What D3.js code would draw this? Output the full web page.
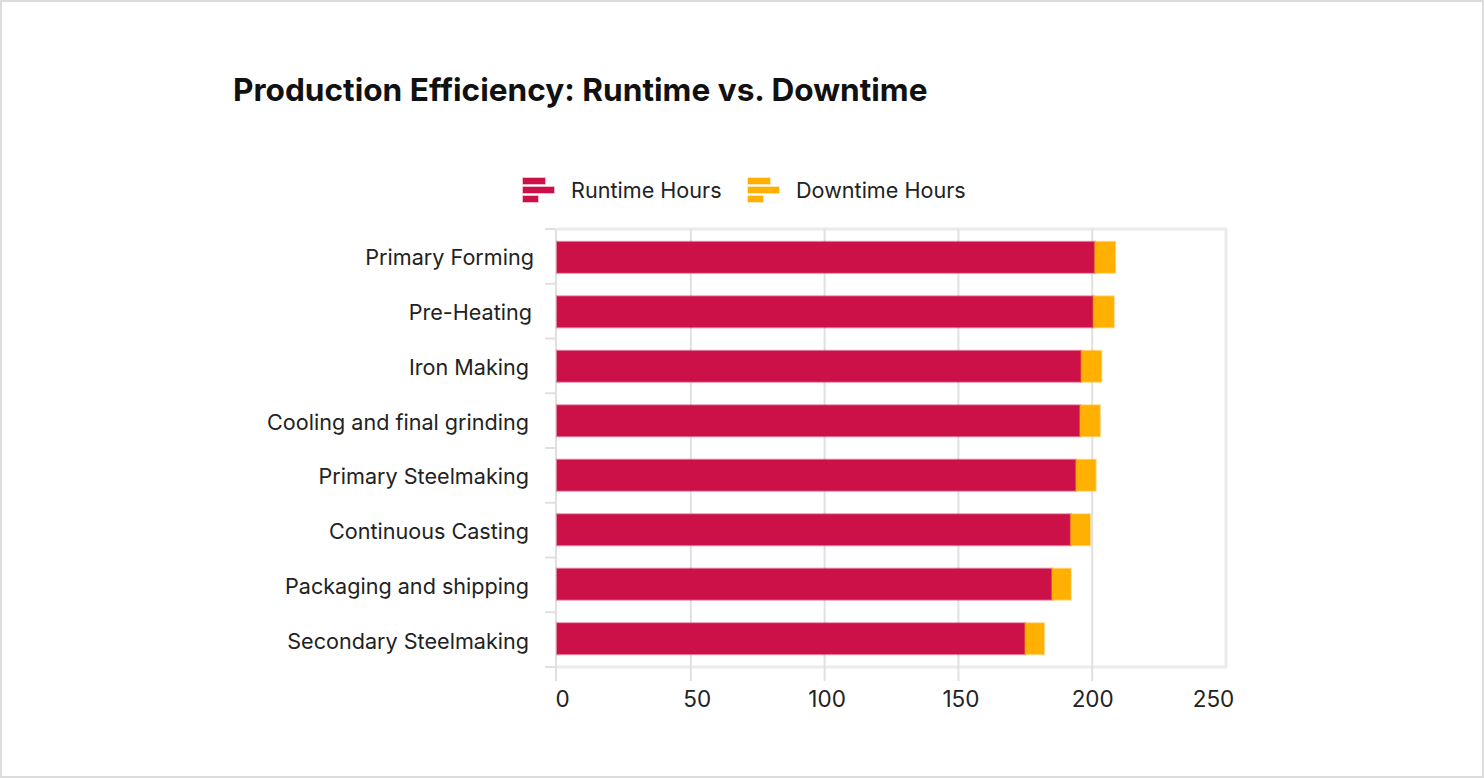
<!DOCTYPE html>
<html>
<head>
<meta charset="utf-8">
<script src="https://cdn.jsdelivr.net/npm/d3@7"></script>
<style>
  html, body { margin: 0; padding: 0; background: #fff; }
  body { width: 1484px; height: 778px; overflow: hidden; }
  svg { display: block; font-family: Inter, "Noto Sans", sans-serif; }
</style>
</head>
<body>
<svg id="chart" width="1484" height="778"></svg>
<script>
const categories = ["Primary Forming", "Pre-Heating", "Iron Making", "Cooling and final grinding", "Primary Steelmaking", "Continuous Casting", "Packaging and shipping", "Secondary Steelmaking"];
const runtimeHours = [201, 200.5, 196, 195.5, 194, 192, 185, 175];
const downtimeHours = [7.6, 7.6, 7.4, 7.4, 7.3, 7.2, 7.0, 7.0];
const seriesNames = ["Runtime Hours", "Downtime Hours"];
const seriesColors = ["#cc1149", "#ffb000"];
const xTicks = [0, 50, 100, 150, 200, 250];
const titleText = "Production Efficiency: Runtime vs. Downtime";

const svg = d3.select("#chart");
const W = 1484, H = 778;

// outer border
svg.append("rect").attr("x", 1).attr("y", 1).attr("width", W - 2).attr("height", H - 2)
  .attr("fill", "#fff").attr("stroke", "#dcdcdc").attr("stroke-width", 2);

// title
svg.append("text").attr("x", 233).attr("y", 101)
  .attr("font-size", 31.6).attr("font-weight", 700).attr("fill", "#111")
  .text(titleText);

const margin = { left: 557, right: 1226, top: 229, bottom: 667 };
const x = d3.scaleLinear().domain([0, 250]).range([margin.left, margin.right]);
const y = d3.scaleBand().domain(categories).range([margin.top, margin.bottom]).paddingInner(0.43).paddingOuter(0.235);
const yb = d3.scaleBand().domain(categories).range([margin.top, margin.bottom]);

const g = svg.append("g");

// frame (top and right)
g.append("path")
  .attr("d", `M${margin.left},${margin.top}H${margin.right}V${margin.bottom}H${margin.left}`)
  .attr("fill", "none").attr("stroke", "#ebebeb").attr("stroke-width", 3);

// vertical grid
g.selectAll(".grid").data(xTicks.slice(1, -1)).join("line")
  .attr("x1", d => x(d)).attr("x2", d => x(d))
  .attr("y1", margin.top).attr("y2", margin.bottom + 14)
  .attr("stroke", "#e0e0e0").attr("stroke-width", 2);

// x axis labels
const xLabelShift = [5, 6, 2, 2, 0, -13];
const xAxis = d3.axisBottom(x).tickValues(xTicks).tickSize(0).tickPadding(0);
const xg = g.append("g").attr("transform", `translate(0,${margin.bottom + 33})`).call(xAxis);
xg.select(".domain").remove();
xg.selectAll("text").attr("font-size", 22.5).attr("fill", "#222").attr("font-family", "Inter, sans-serif")
  .attr("dy", "0.32em").attr("dx", (d, i) => xLabelShift[i]);

// y axis line and ticks
const yLabelShift = [5, 3, 0, 0, 0, 0, 0, 0];
const yAxis = d3.axisLeft(yb).tickSize(0).tickPadding(27);
const yg = g.append("g").attr("transform", `translate(${margin.left - 1},2)`).call(yAxis);
yg.select(".domain").attr("stroke", "#e0e0e0").attr("stroke-width", 2)
  .attr("d", `M0,${margin.top - 2}V${margin.bottom + 12}`);
yg.selectAll("text").attr("font-size", 21.6).attr("fill", "#222").attr("font-family", "Inter, sans-serif")
  .attr("dx", (d, i) => yLabelShift[i]);
const bounds = categories.map(c => yb(c)).concat([margin.bottom]);
yg.selectAll(".btick").data(bounds).join("line")
  .attr("x1", -11).attr("x2", 0).attr("y1", d => d - 2).attr("y2", d => d - 2)
  .attr("stroke", "#e0e0e0").attr("stroke-width", 2);

// bars
const rows = categories.map((c, i) => ({ c, r: runtimeHours[i], d: downtimeHours[i] }));
g.selectAll(".rt").data(rows).join("rect")
  .attr("x", x(0)).attr("y", d => y(d.c))
  .attr("width", d => x(d.r) - x(0)).attr("height", y.bandwidth())
  .attr("fill", seriesColors[0]).attr("stroke", seriesColors[0]).attr("stroke-opacity", 0.45).attr("stroke-width", 2);
g.selectAll(".dt").data(rows).join("rect")
  .attr("x", d => x(d.r)).attr("y", d => y(d.c))
  .attr("width", d => x(d.r + d.d) - x(d.r)).attr("height", y.bandwidth())
  .attr("fill", seriesColors[1]).attr("stroke", seriesColors[1]).attr("stroke-opacity", 0.45).attr("stroke-width", 2);

// legend
const legendItems = [{ name: seriesNames[0], color: seriesColors[0], x: 523 }, { name: seriesNames[1], color: seriesColors[1], x: 748 }];
legendItems.forEach(it => {
  const lg = svg.append("g").attr("transform", `translate(${it.x},178)`);
  [[0, 22], [9, 31], [18, 15]].forEach(([yy, w]) => {
    lg.append("rect").attr("x", 0).attr("y", yy).attr("width", w).attr("height", 6)
      .attr("fill", it.color).attr("stroke", it.color).attr("stroke-opacity", 0.4).attr("stroke-width", 1.5);
  });
  lg.append("text").attr("x", 48).attr("y", 12).attr("dy", "0.35em")
    .attr("font-size", 21.6).attr("fill", "#222").text(it.name);
});
</script>
</body>
</html>
